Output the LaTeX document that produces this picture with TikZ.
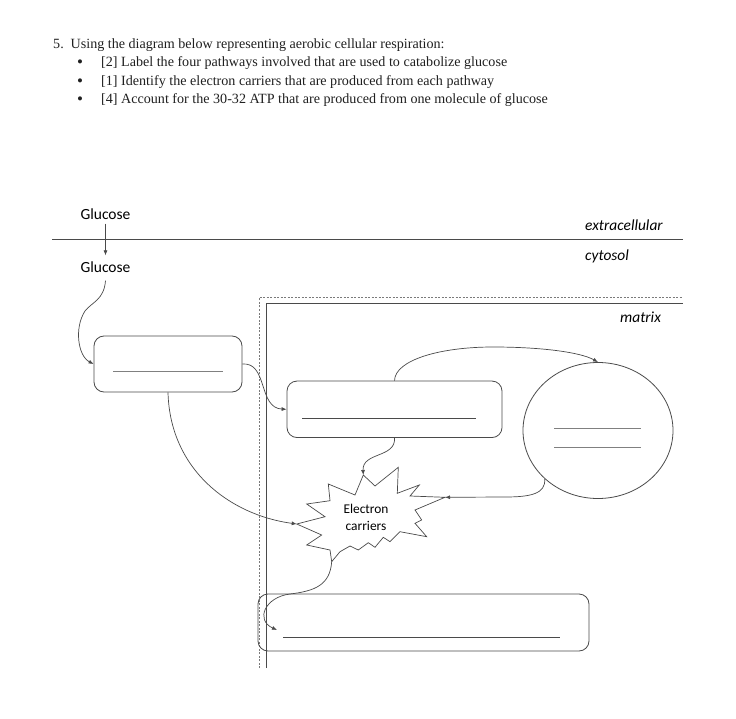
\documentclass[tikz,border=0pt]{standalone}
\usepackage{fontspec}
\setmainfont{Liberation Serif}
\newfontfamily\calib{Carlito}
\usetikzlibrary{arrows.meta,shapes.geometric}
\definecolor{ln}{HTML}{4A4A4A}
\definecolor{dl}{HTML}{7A7A7A}
\definecolor{tx}{HTML}{202020}
\begin{document}
\begin{tikzpicture}[x=1pt,y=-1pt,
  box/.style={draw=ln,line width=0.8pt,rounded corners=10pt,inner sep=0pt},
  arr/.style={draw=ln,line width=0.7pt,-{Latex[length=5pt,width=4pt]}},
  ans/.style={draw=gray,line width=0.9pt},
  lab/.style={font=\calib\fontsize{15.5}{18}\selectfont,inner sep=3pt},
  region/.style={font=\calib\itshape\fontsize{15.4}{18}\selectfont,inner sep=0pt,anchor=base west},
  ttl/.style={text=tx,font=\fontsize{14.1}{16}\selectfont,inner sep=0pt,anchor=base west},
  bul/.style={text=tx,font=\fontsize{17}{16}\selectfont,inner sep=0pt,anchor=base west}]
\useasboundingbox (0,0) rectangle (736,719);
\fill[white] (0,0) rectangle (736,719);

% question text
\node[ttl] (qn) at (53,49) {5.};
\node[ttl] (q0) at (70.5,49) {Using the diagram below representing aerobic cellular respiration:};
\node[bul] (bl1) at (77,68) {\textbullet};
\node[bul] (bl2) at (77,87) {\textbullet};
\node[bul] (bl3) at (77,105) {\textbullet};
\node[ttl] (q1) at (101,67) {[2] Label the four pathways involved that are used to catabolize glucose};
\node[ttl] (q2) at (101,86) {[1] Identify the electron carriers that are produced from each pathway};
\node[ttl] (q3) at (101,104) {[4] Account for the 30-32 ATP that are produced from one molecule of glucose};

% membranes
\draw[ln,line width=0.8pt] (52,239) -- (683,239);
\draw[dl,line width=0.7pt,dash pattern=on 2pt off 1.5pt] (259,668) -- (259,297.5) -- (683,297.5);
\draw[ln,line width=0.9pt] (266,668) -- (266,303.5) -- (683,303.5);

% region labels
\node[region] (ex) at (585,231) {extracellular};
\node[region] (cy) at (585,260.5) {cytosol};
\node[region] (mx) at (620,322.5) {matrix};

% glucose
\node[lab] (gl1) at (105.5,214) {Glucose};
\node[lab] (gl2) at (105.5,267) {Glucose};
\draw[arr] ([yshift=-1pt]gl1.south) -- ([yshift=3pt]gl2.north);

% pathway boxes
\node[box,minimum width=148pt,minimum height=56pt] (box1) at (168,364) {};
\node[box,minimum width=215pt,minimum height=56.5pt] (box2) at (394.5,409.3) {};
\node[box,minimum width=331pt,minimum height=57pt] (box3) at (423.5,622.5) {};
\node[draw=ln,line width=0.8pt,ellipse,minimum width=150pt,minimum height=136pt,inner sep=0pt] (ell) at (598,430.5) {};

% answer lines
\draw[ans] (113,371) -- (223,371);
\draw[ans,draw=ln] (302,418) -- (476,418);
\draw[ans] (554,428) -- (641,428);
\draw[ans] (554,447) -- (641,447);
\draw[ans,draw=ln] (283,637) -- (560,637);

% electron carriers star
\coordinate (sTop) at (363.3,475);
\coordinate (sLeft) at (296.7,524);
\coordinate (sRight) at (445,497.3);
\coordinate (sBot) at (331.7,561.7);
\draw[ln,line width=0.7pt,line join=miter] (sTop) -- (375,486) -- (398.3,467.3) -- (397.3,493.3) -- (419.3,485) -- (410,496)
  -- (sRight) -- (415,510) -- (421.7,520) -- (415,523.3) -- (426.7,536.7) -- (400,531.7) -- (390,541.7)
  -- (383.3,537.3) -- (375,547.3) -- (368.3,542.7) -- (358.3,550) -- (350,546) -- (340,551.7) -- (sBot)
  -- (330,550) -- (306.7,545) -- (321.7,535) -- (sLeft) -- (325,516.7) -- (306.7,504) -- (330,500.7)
  -- (328.3,484) -- (355,495) -- cycle;
\node[font=\calib\fontsize{13.4}{16.4}\selectfont,align=center,inner sep=0pt] (star) at (366,517.5) {Electron\\carriers};

\coordinate (b3in) at (277,630);

% connectors
\draw[arr] ([yshift=-5pt]gl2.south) .. controls (104,300) and (92,302) .. (85,311) .. controls (74,328) and (78,356) .. (box1.west);
\draw[arr] (box1.east) .. controls (268,362) and (258,408) .. (box2.west);
\draw[arr] (box1.south) .. controls (170,470) and (230,515) .. (sLeft);
\draw[arr] (box2.north) .. controls (395,360) and (440,347) .. (493,347) .. controls (540,347) and (580,352) .. (ell.north);
\draw[arr] (box2.south) .. controls (396,458) and (362,452) .. (sTop);
\draw[arr] (ell.south west) .. controls (546,494) and (530,497) .. (505,497) -- (sRight);
\draw[arr] (sBot) .. controls (330,585) and (315,591) .. (290,594) .. controls (265,597) and (255,620) .. (b3in);
\end{tikzpicture}
\end{document}
